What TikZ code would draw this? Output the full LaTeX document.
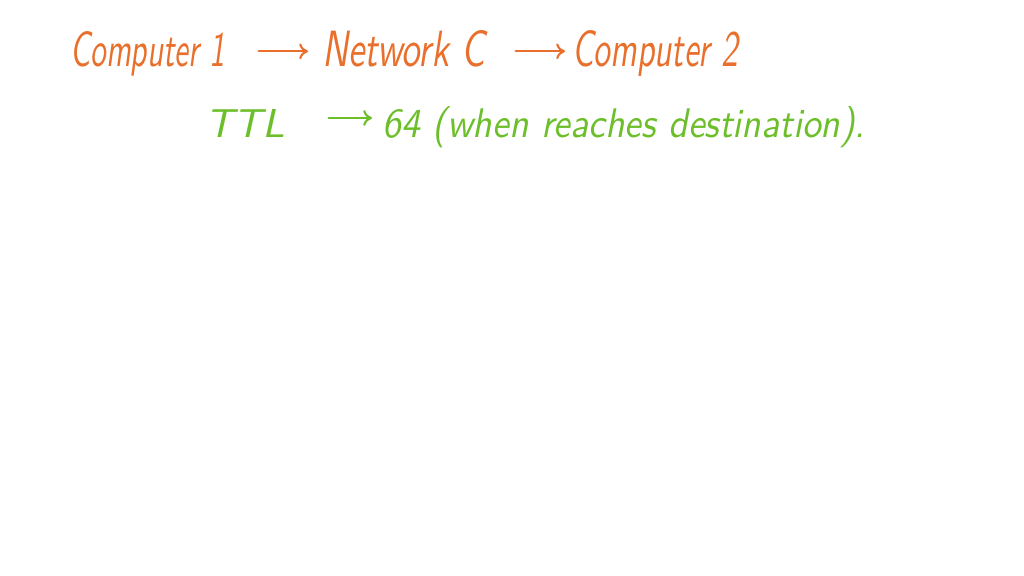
\documentclass[tikz,border=0pt]{standalone}
\usepackage{tikz}
\usetikzlibrary{positioning, arrows.meta, calc}
\definecolor{noteorange}{HTML}{E8702C}
\definecolor{notegreen}{HTML}{6CBF2A}
\newcommand{\handtext}[3]{\resizebox{#1}{#2}{\sffamily\itshape #3}} % Squeezes text to the written size
\tikzset{
    every node/.style={ % Sets the properties for each written word
        inner sep=0pt,
        anchor=base west
    },
    hop/.style={ % Sets the properties for each arrow
        draw,
        -{To[length=5pt,width=9pt]}, % Open barbs like a pen stroke
        line width=1.2pt,
        line cap=round
    }
}

\begin{document}
\begin{tikzpicture}
            \useasboundingbox (0,0) rectangle (20.48,11.52);
            \node[text=noteorange] (comp1) at (1.40,10.18) {\handtext{3.1cm}{0.70cm}{Computer 1}};
            \node[text=noteorange] (netc)  at (6.44,10.18) {\handtext{3.26cm}{0.72cm}{Network C}};
            \node[text=noteorange] (comp2) at (11.44,10.18) {\handtext{3.32cm}{0.72cm}{Computer 2}};
            \node[text=notegreen]  (ttl)   at (4.10,8.76) {\handtext{1.6cm}{0.56cm}{TTL}};
            \node[text=notegreen]  (val)   at (7.64,8.76) {\handtext{9.66cm}{0.62cm}{64 (when reaches destination).}};
            \draw[hop, noteorange, shorten <=0.66cm, shorten >=0.28cm] ($(comp1.east)+(0,0.06)$) -- ($(comp1.east -| netc.west)+(0,0.06)$);
            \draw[hop, noteorange, shorten <=0.60cm, shorten >=0.14cm] ($(netc.east)+(0,-0.04)$) -- ($(netc.east -| comp2.west)+(0,-0.04)$);
            \draw[hop, notegreen, shorten <=0.86cm, shorten >=0.20cm] ($(ttl.east)+(0,0.12)$) -- ($(ttl.east -| val.west)+(0,0.12)$);
        \end{tikzpicture}
\end{document}
